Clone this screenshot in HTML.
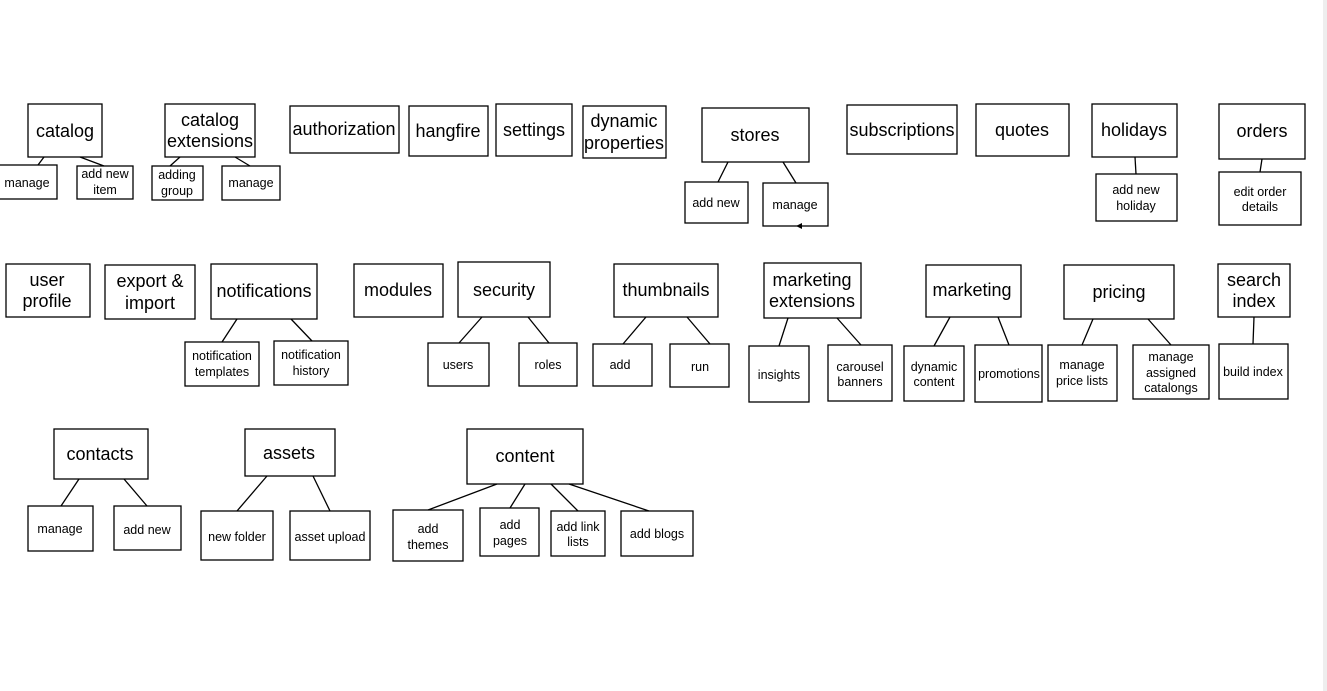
<!DOCTYPE html>
<html><head><style>
html,body{margin:0;padding:0;background:#fff;width:1327px;height:691px;overflow:hidden}
svg text{font-family:"Liberation Sans",Arial,sans-serif;fill:#000}
</style></head><body>
<svg width="1327" height="691" viewBox="0 0 1327 691" xmlns="http://www.w3.org/2000/svg">
<rect x="1323" y="0" width="4" height="691" fill="#eeeeee"/>
<g fill="#fff" stroke="#000" stroke-width="1.3">
<rect x="28" y="104" width="74" height="53"/>
<rect x="-2" y="165" width="59" height="34"/>
<rect x="77" y="166" width="56" height="33"/>
<rect x="165" y="104" width="90" height="53"/>
<rect x="152" y="166" width="51" height="34"/>
<rect x="222" y="166" width="58" height="34"/>
<rect x="290" y="106" width="109" height="47"/>
<rect x="409" y="106" width="79" height="50"/>
<rect x="496" y="104" width="76" height="52"/>
<rect x="583" y="106" width="83" height="52"/>
<rect x="702" y="108" width="107" height="54"/>
<rect x="685" y="182" width="63" height="41"/>
<rect x="763" y="183" width="65" height="43"/>
<rect x="847" y="105" width="110" height="49"/>
<rect x="976" y="104" width="93" height="52"/>
<rect x="1092" y="104" width="85" height="53"/>
<rect x="1096" y="174" width="81" height="47"/>
<rect x="1219" y="104" width="86" height="55"/>
<rect x="1219" y="172" width="82" height="53"/>

<rect x="6" y="264" width="84" height="53"/>
<rect x="105" y="265" width="90" height="54"/>
<rect x="211" y="264" width="106" height="55"/>
<rect x="185" y="342" width="74" height="44"/>
<rect x="274" y="341" width="74" height="44"/>
<rect x="354" y="264" width="89" height="53"/>
<rect x="458" y="262" width="92" height="55"/>
<rect x="428" y="343" width="61" height="43"/>
<rect x="519" y="343" width="58" height="43"/>
<rect x="614" y="264" width="104" height="53"/>
<rect x="593" y="344" width="59" height="42"/>
<rect x="670" y="344" width="59" height="43"/>
<rect x="764" y="263" width="97" height="55"/>
<rect x="749" y="346" width="60" height="56"/>
<rect x="828" y="345" width="64" height="56"/>
<rect x="926" y="265" width="95" height="52"/>
<rect x="904" y="346" width="60" height="55"/>
<rect x="975" y="345" width="67" height="57"/>
<rect x="1064" y="265" width="110" height="54"/>
<rect x="1048" y="345" width="69" height="56"/>
<rect x="1133" y="345" width="76" height="54"/>
<rect x="1218" y="264" width="72" height="53"/>
<rect x="1219" y="344" width="69" height="55"/>

<rect x="54" y="429" width="94" height="50"/>
<rect x="28" y="506" width="65" height="45"/>
<rect x="114" y="506" width="67" height="44"/>
<rect x="245" y="429" width="90" height="47"/>
<rect x="201" y="511" width="72" height="49"/>
<rect x="290" y="511" width="80" height="49"/>
<rect x="467" y="429" width="116" height="55"/>
<rect x="393" y="510" width="70" height="51"/>
<rect x="480" y="508" width="59" height="48"/>
<rect x="551" y="511" width="54" height="45"/>
<rect x="621" y="511" width="72" height="45"/>
</g>
<g stroke="#000" stroke-width="1.3" fill="none">
<line x1="44" y1="157" x2="38" y2="165"/><line x1="80" y1="157" x2="104" y2="166"/>
<line x1="180" y1="157" x2="170" y2="166"/><line x1="235" y1="157" x2="250" y2="166"/>
<line x1="728" y1="162" x2="718" y2="182"/><line x1="783" y1="162" x2="796" y2="183"/>
<line x1="1135" y1="157" x2="1136" y2="174"/><line x1="1262" y1="159" x2="1260" y2="172"/>
<line x1="237" y1="319" x2="222" y2="342"/><line x1="291" y1="319" x2="312" y2="341"/>
<line x1="482" y1="317" x2="459" y2="343"/><line x1="528" y1="317" x2="549" y2="343"/>
<line x1="646" y1="317" x2="623" y2="344"/><line x1="687" y1="317" x2="710" y2="344"/>
<line x1="788" y1="318" x2="779" y2="346"/><line x1="837" y1="318" x2="861" y2="345"/>
<line x1="950" y1="317" x2="934" y2="346"/><line x1="998" y1="317" x2="1009" y2="345"/>
<line x1="1093" y1="319" x2="1082" y2="345"/><line x1="1148" y1="319" x2="1171" y2="345"/>
<line x1="1254" y1="317" x2="1253" y2="344"/>
<line x1="79" y1="479" x2="61" y2="506"/><line x1="124" y1="479" x2="147" y2="506"/>
<line x1="267" y1="476" x2="237" y2="511"/><line x1="313" y1="476" x2="330" y2="511"/>
<line x1="497" y1="484" x2="428" y2="510"/><line x1="525" y1="484" x2="510" y2="508"/>
<line x1="551" y1="484" x2="578" y2="511"/><line x1="569" y1="484" x2="649" y2="511"/>
</g>
<polygon points="796,226 802,223 802,229" fill="#000"/>
<g font-size="18" text-anchor="middle">
<text x="65" y="137">catalog</text>
<text x="210" y="126">catalog</text><text x="210" y="147">extensions</text>
<text x="344" y="135">authorization</text>
<text x="448" y="137">hangfire</text>
<text x="534" y="136">settings</text>
<text x="624" y="127">dynamic</text><text x="624" y="149">properties</text>
<text x="755" y="141">stores</text>
<text x="902" y="136">subscriptions</text>
<text x="1022" y="136">quotes</text>
<text x="1134" y="136">holidays</text>
<text x="1262" y="137">orders</text>
<text x="47" y="286">user</text><text x="47" y="307">profile</text>
<text x="150" y="287">export &amp;</text><text x="150" y="309">import</text>
<text x="264" y="297">notifications</text>
<text x="398" y="296">modules</text>
<text x="504" y="296">security</text>
<text x="666" y="296">thumbnails</text>
<text x="812" y="286">marketing</text><text x="812" y="307">extensions</text>
<text x="972" y="296">marketing</text>
<text x="1119" y="298">pricing</text>
<text x="1254" y="286">search</text><text x="1254" y="307">index</text>
<text x="100" y="460">contacts</text>
<text x="289" y="459">assets</text>
<text x="525" y="462">content</text>
</g>
<g font-size="12.5" text-anchor="middle">
<text x="27" y="187">manage</text>
<text x="105" y="178">add new</text><text x="105" y="194">item</text>
<text x="177" y="179">adding</text><text x="177" y="195">group</text>
<text x="251" y="187">manage</text>
<text x="716" y="207">add new</text>
<text x="795" y="209">manage</text>
<text x="1136" y="194">add new</text><text x="1136" y="210">holiday</text>
<text x="1260" y="196">edit order</text><text x="1260" y="211">details</text>
<text x="222" y="360">notification</text><text x="222" y="376">templates</text>
<text x="311" y="359">notification</text><text x="311" y="375">history</text>
<text x="458" y="369">users</text>
<text x="548" y="369">roles</text>
<text x="620" y="369">add</text>
<text x="700" y="371">run</text>
<text x="779" y="379">insights</text>
<text x="860" y="371">carousel</text><text x="860" y="386">banners</text>
<text x="934" y="371">dynamic</text><text x="934" y="386">content</text>
<text x="1009" y="378">promotions</text>
<text x="1082" y="369">manage</text><text x="1082" y="385">price lists</text>
<text x="1171" y="361">manage</text><text x="1171" y="377">assigned</text><text x="1171" y="392">catalongs</text>
<text x="1253" y="376">build index</text>
<text x="60" y="533">manage</text>
<text x="147" y="534">add new</text>
<text x="237" y="541">new folder</text>
<text x="330" y="541">asset upload</text>
<text x="428" y="533">add</text><text x="428" y="549">themes</text>
<text x="510" y="529">add</text><text x="510" y="545">pages</text>
<text x="578" y="531">add link</text><text x="578" y="546">lists</text>
<text x="657" y="538">add blogs</text>
</g>
</svg>
</body></html>
